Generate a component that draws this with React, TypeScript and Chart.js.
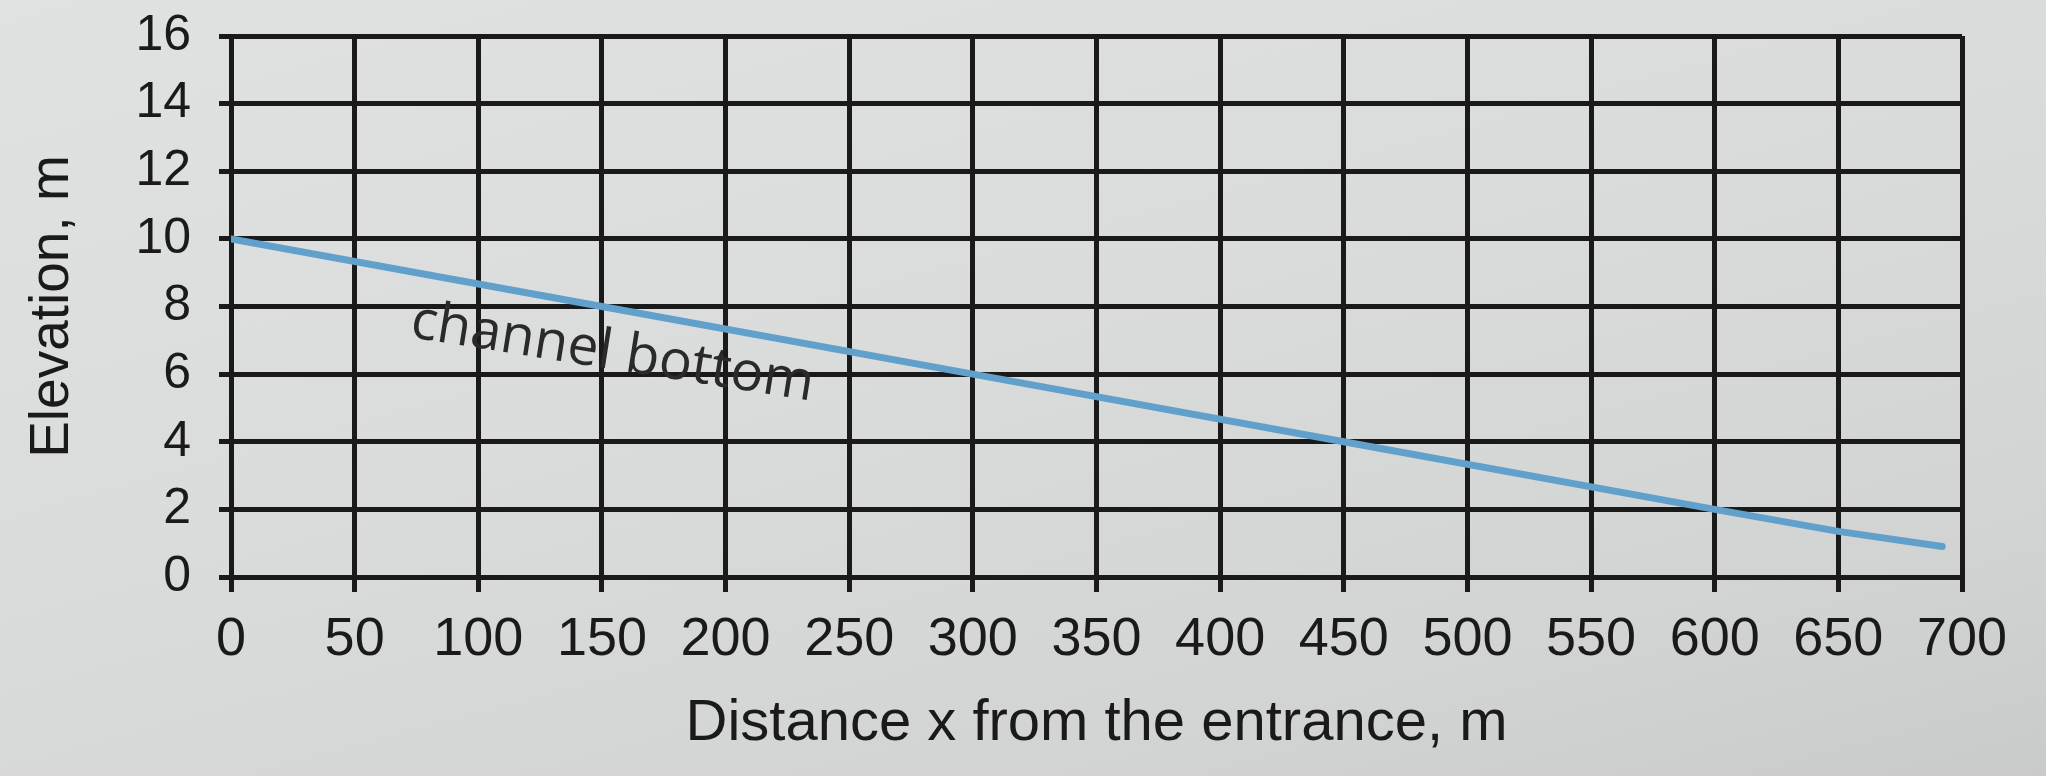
import React, { useEffect, useRef } from "react";
import { Chart, registerables } from "chart.js";

Chart.register(...registerables);

// ---- data ----
const distances = [0, 150, 300, 450, 600, 650, 692];
const elevations = [10, 8, 6, 4, 2, 1.35, 0.9];
const seriesLabel = "channel bottom";

const xTitle = "Distance x from the entrance, m";
const yTitle = "Elevation, m";
const xMin = 0;
const xMax = 700;
const xStep = 50;
const yMin = 0;
const yMax = 16;
const yStep = 2;

// annotation anchor (data units) and tilt
const annotationX = 72;
const annotationY = 7.1;
const annotationAngleDeg = 9;

const W = 2046;
const H = 776;

const INK = "#1a1a1a";
const LINE_BLUE = "#62a0cc";
const TICK_FONT = "'Liberation Sans', Arial, sans-serif";

const annotationPlugin = {
  id: "channelLabel",
  afterDatasetsDraw(chart: any) {
    const { ctx, scales } = chart;
    const px = scales.x.getPixelForValue(annotationX);
    const py = scales.y.getPixelForValue(annotationY);
    ctx.save();
    ctx.translate(px, py);
    ctx.rotate((annotationAngleDeg * Math.PI) / 180);
    ctx.font = "55px 'Open Sans', sans-serif";
    ctx.fillStyle = "#2a2a2a";
    ctx.textAlign = "left";
    ctx.textBaseline = "alphabetic";
    ctx.fillText(seriesLabel, 0, 0);
    ctx.restore();
  },
};

export default function App() {
  const canvasRef = useRef<HTMLCanvasElement | null>(null);

  useEffect(() => {
    const canvas = canvasRef.current;
    if (!canvas) return;
    const points = distances.map((d, i) => ({ x: d, y: elevations[i] }));
    const chart = new Chart(canvas, {
      type: "line",
      data: {
        datasets: [
          {
            label: seriesLabel,
            data: points,
            borderColor: LINE_BLUE,
            borderWidth: 7,
            borderCapStyle: "round",
            pointRadius: 0,
            tension: 0,
            fill: false,
          },
        ],
      },
      options: {
        responsive: false,
        animation: false,
        devicePixelRatio: 1,
        layout: { padding: { top: 36, right: 84, bottom: 0, left: 0 } },
        plugins: {
          legend: { display: false },
          tooltip: { enabled: false },
        },
        scales: {
          x: {
            type: "linear",
            min: xMin,
            max: xMax,
            afterFit: (s: any) => {
              s.height = 199;
              s.paddingLeft = 0;
              s.paddingRight = 0;
            },
            ticks: {
              stepSize: xStep,
              padding: 16,
              color: INK,
              font: { family: TICK_FONT, size: 54 },
              maxRotation: 0,
              autoSkip: false,
            },
            grid: {
              color: INK,
              lineWidth: 5,
              tickLength: 15,
              drawTicks: true,
            },
            border: { display: true, color: INK, width: 5 },
            title: {
              display: true,
              text: xTitle,
              color: INK,
              font: { family: TICK_FONT, size: 58 },
              padding: { top: 0, bottom: 17 },
            },
          },
          y: {
            type: "linear",
            min: yMin,
            max: yMax,
            afterFit: (s: any) => {
              s.width = 231;
              s.paddingTop = 0;
              s.paddingBottom = 0;
            },
            ticks: {
              stepSize: yStep,
              padding: 28,
              color: INK,
              font: { family: TICK_FONT, size: 50 },
              autoSkip: false,
            },
            grid: {
              color: INK,
              lineWidth: 5,
              tickLength: 12,
              drawTicks: true,
            },
            border: { display: true, color: INK, width: 5 },
            title: {
              display: true,
              text: yTitle,
              color: INK,
              font: { family: TICK_FONT, size: 55 },
              padding: { top: 20, bottom: 0 },
            },
          },
        },
      },
      plugins: [annotationPlugin],
    });
    return () => chart.destroy();
  }, []);

  return (
    <div
      style={{
        position: "absolute",
        left: 0,
        top: 0,
        width: W,
        height: H,
        background:
          "linear-gradient(165deg, #dfe2e1 0%, #d9dcdb 45%, #d2d4d3 80%, #c9cbca 100%)",
      }}
    >
      <canvas
        ref={canvasRef}
        width={W}
        height={H}
        style={{ display: "block", width: W, height: H }}
      />
    </div>
  );
}
